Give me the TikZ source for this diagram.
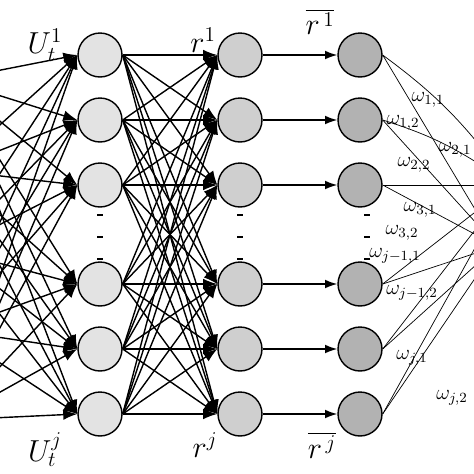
\documentclass[tikz,border=0pt]{standalone}
\usepackage{fontspec}
\setmainfont{Liberation Serif}
\usetikzlibrary{arrows.meta}
\begin{document}
\begin{tikzpicture}[x=0.02cm,y=-0.02cm,
  neuron/.style={circle,draw,thick,minimum size=0.88cm,inner sep=0pt},
  conn/.style={thick,-{Latex[length=8pt,width=6pt]}},
  link/.style={thick,-{Latex[length=7pt,width=5pt]}},
  wlink/.style={thin},
  wlabel/.style={font=\large,inner sep=0pt},
  dots/.style={thick}]
\useasboundingbox (0,0) rectangle (474,474);
\clip (0,0) rectangle (474,474);
% input side, off the left edge
\foreach \k/\y in {1/80,2/170,3/250,4/330,5/420}
  \coordinate (in-\k) at (-50,\y);
% three layers of neurons
\foreach \i/\y in {1/55,2/120,3/185,4/284,5/349,6/414}{
  \node[neuron,fill=gray!22] (c1-\i) at (100,\y) {};
  \node[neuron,fill=gray!38] (c2-\i) at (240,\y) {};
  \node[neuron,fill=gray!60] (c3-\i) at (360,\y) {};
}
% output neurons, mostly off the right edge
\node[neuron,fill=gray!40] (o-1) at (510,185) {};
\node[neuron,fill=gray!40] (o-2) at (497,246) {};
% dashes between the rows
\foreach \x in {100,240,367}
  \foreach \y in {215,237,259}
    \draw[dots] (\x-3,\y) -- (\x+3,\y);
% connections
\foreach \k in {1,...,5}
  \foreach \i in {1,...,6}
    \draw[conn] (in-\k) -- (c1-\i.west);
\foreach \i in {1,...,6}
  \foreach \j in {1,...,6}
    \draw[conn] (c1-\i.east) -- (c2-\j.west);
\foreach \i in {1,...,6}
  \draw[link] (c2-\i.east) -- (c3-\i.west);
\draw[wlink] (c3-1.east) to[bend left=8] (o-1);
\draw[wlink] (c3-1.east) -- (o-2);
\draw[wlink] (c3-2.east) to[bend left=8] (o-1);
\draw[wlink] (c3-2.east) -- (o-2);
\draw[wlink] (c3-3.east) -- (o-1);
\draw[wlink] (c3-3.east) -- (o-2);
\foreach \i in {4,5,6}{
  \draw[wlink] (c3-\i.east) -- (o-1);
  \draw[wlink] (c3-\i.east) -- (o-2);
}
% layer labels
\node[font=\LARGE] (lu1) at (45,45) {$U_t^1$};
\node[font=\LARGE] (luj) at (45,450) {$U_t^j$};
\node[font=\LARGE] (lr1) at (203,40) {$r^1$};
\node[font=\LARGE] (lrj) at (205,445) {$r^j$};
\node[font=\LARGE] (lb1) at (320,22) {$\overline{r^{\,1}}$};
\node[font=\LARGE] (lbj) at (322,445) {$\overline{r^{\,j}}$};
% weights
\node[wlabel] (w11) at (428,100) {$\omega_{1,1}$};
\node[wlabel] (w12) at (403,123) {$\omega_{1,2}$};
\node[wlabel] (w21) at (455,150) {$\omega_{2,1}$};
\node[wlabel] (w22) at (414,165) {$\omega_{2,2}$};
\node[wlabel] (w31) at (420,210) {$\omega_{3,1}$};
\node[wlabel] (w32) at (402,233) {$\omega_{3,2}$};
\node[wlabel] (wa1) at (395,256) {$\omega_{j-1,1}$};
\node[wlabel] (wa2) at (412,293) {$\omega_{j-1,2}$};
\node[wlabel] (wj1) at (412,358) {$\omega_{j,1}$};
\node[wlabel] (wj2) at (452,398) {$\omega_{j,2}$};
\end{tikzpicture}
\end{document}
